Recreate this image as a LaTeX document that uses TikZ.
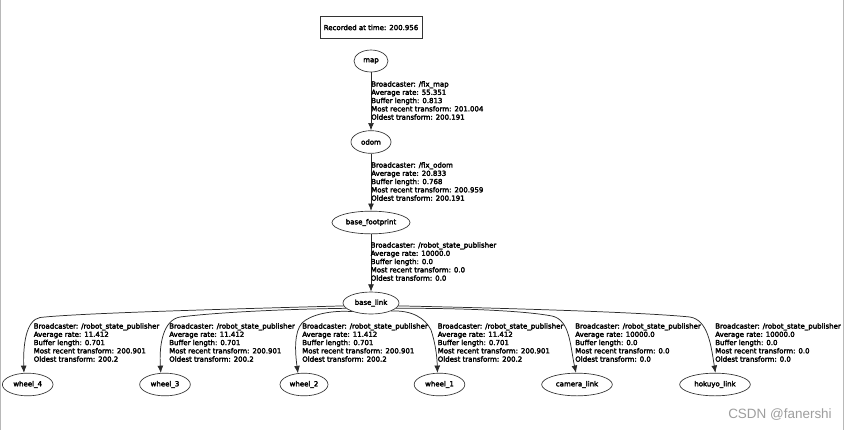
\documentclass[tikz,border=0pt]{standalone}
\usepackage{fontspec}
\usetikzlibrary{shapes.geometric,arrows.meta}
\newfontfamily\gvfont[FakeBold=3]{DejaVu Sans}
\newfontfamily\wmfont{Liberation Sans}
\definecolor{edgeline}{HTML}{2A2A2A}
\tikzset{
  x=0.75pt,y=-0.75pt,
  frame/.style={draw=black!28,line width=0.9pt},
  tf/.style={draw=black!80,ellipse,line width=0.5pt,inner sep=0pt,minimum height=17pt,font=\gvfont\fontsize{5.25}{6}\selectfont,text=black},
  rec/.style={draw=black!80,line width=0.55pt,inner sep=0pt,minimum width=76.5pt,minimum height=16.5pt,font=\gvfont\fontsize{5.25}{6}\selectfont},
  lbl/.style={anchor=north west,inner sep=0pt,align=left,font=\gvfont\fontsize{5.25}{6.2}\selectfont,text=black},
  edge/.style={draw=edgeline,line width=0.55pt,-{Latex[length=5.5pt,width=4.4pt]}},
  wm/.style={anchor=west,inner sep=0pt,font=\wmfont\fontsize{10.1}{12}\selectfont,text=black!38}
}
\begin{document}
\begin{tikzpicture}
\useasboundingbox (0,0) rectangle (844,430);
\fill[white] (0,0) rectangle (844,430);
\draw[frame] (0.4,0) -- (0.4,430);
\draw[frame] (843.6,0) -- (843.6,430);

\node[rec] (rec) at (371,27.5) {Recorded at time: 200.956};
\node[tf,minimum width=25.5pt,minimum height=16.5pt] (map) at (371,61) {map};
\node[tf,minimum width=30pt] (odom) at (371,142) {odom};
\node[tf,minimum width=58.5pt] (fp) at (371,222.5) {base\_footprint};
\node[tf,minimum width=42pt,minimum height=16.5pt] (bl) at (371,303) {base\_link};
\node[tf,minimum width=38pt] (w4) at (27.7,384.5) {wheel\_4};
\node[tf,minimum width=38pt] (w3) at (165,384.5) {wheel\_3};
\node[tf,minimum width=36pt] (w2) at (304,384.5) {wheel\_2};
\node[tf,minimum width=38pt] (w1) at (439.5,384.5) {wheel\_1};
\node[tf,minimum width=53pt] (cam) at (577,384.5) {camera\_link};
\node[tf,minimum width=53pt] (hok) at (715,384.5) {hokuyo\_link};

\draw[edge] (map) -- (odom);
\draw[edge] (odom) -- (fp);
\draw[edge] (fp) -- (bl);
\draw[edge] (bl.186) .. controls (230,309) and (80,313) .. (40,317.5) .. controls (26,320) and (23,345) .. (w4.108);
\draw[edge] (bl.192) .. controls (290,309) and (220,312) .. (180,317) .. controls (163,320) and (159,345) .. (w3.110);
\draw[edge] (bl.205) .. controls (330,310) and (310,315) .. (302,323) .. controls (294,332) and (295,352) .. (w2.118);
\draw[edge] (bl.-22) .. controls (412,310) and (425,318) .. (431,330) .. controls (435,342) and (437,355) .. (w1.100);
\draw[edge] (bl.-12) .. controls (450,308) and (520,310) .. (552,316) .. controls (570,320) and (570,345) .. (cam.95);
\draw[edge] (bl.-6) .. controls (500,308) and (640,312) .. (690,317) .. controls (708,320) and (711,345) .. (hok.88);

\node[lbl] (l1) at (371,81) {Broadcaster: /fix\_map\\Average rate: 55.351\\Buffer length: 0.813\\Most recent transform: 201.004\\Oldest transform: 200.191};
\node[lbl] (l2) at (371,162) {Broadcaster: /fix\_odom\\Average rate: 20.833\\Buffer length: 0.768\\Most recent transform: 200.959\\Oldest transform: 200.191};
\node[lbl] (l3) at (370.5,242) {Broadcaster: /robot\_state\_publisher\\Average rate: 10000.0\\Buffer length: 0.0\\Most recent transform: 0.0\\Oldest transform: 0.0};
\node[lbl] (l4) at (33.5,323) {Broadcaster: /robot\_state\_publisher\\Average rate: 11.412\\Buffer length: 0.701\\Most recent transform: 200.901\\Oldest transform: 200.2};
\node[lbl] (l5) at (169,323) {Broadcaster: /robot\_state\_publisher\\Average rate: 11.412\\Buffer length: 0.701\\Most recent transform: 200.901\\Oldest transform: 200.2};
\node[lbl] (l6) at (302,323) {Broadcaster: /robot\_state\_publisher\\Average rate: 11.412\\Buffer length: 0.701\\Most recent transform: 200.901\\Oldest transform: 200.2};
\node[lbl] (l7) at (437.5,323) {Broadcaster: /robot\_state\_publisher\\Average rate: 11.412\\Buffer length: 0.701\\Most recent transform: 200.901\\Oldest transform: 200.2};
\node[lbl] (l8) at (575,323) {Broadcaster: /robot\_state\_publisher\\Average rate: 10000.0\\Buffer length: 0.0\\Most recent transform: 0.0\\Oldest transform: 0.0};
\node[lbl] (l9) at (715,323) {Broadcaster: /robot\_state\_publisher\\Average rate: 10000.0\\Buffer length: 0.0\\Most recent transform: 0.0\\Oldest transform: 0.0};
\node[wm] (wm) at (728,415) {CSDN @fanershi};
\end{tikzpicture}
\end{document}
